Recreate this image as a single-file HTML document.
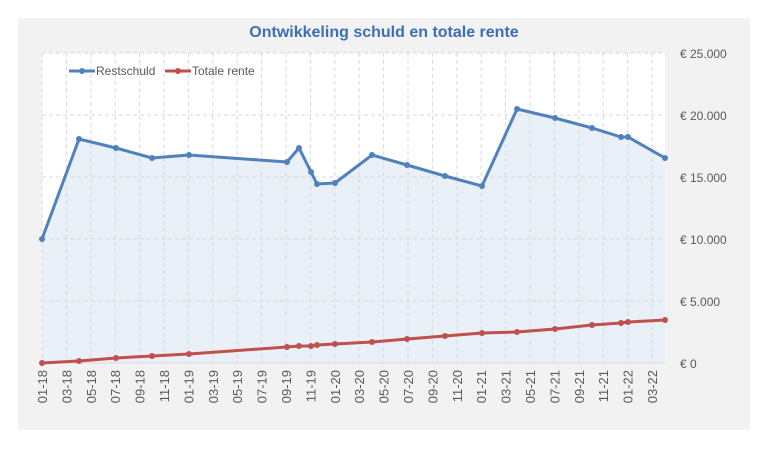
<!DOCTYPE html><html><head><style>body{margin:0;background:#fff}</style></head><body>
<svg width="768" height="449" xmlns="http://www.w3.org/2000/svg" font-family="Liberation Sans, sans-serif">
<rect x="18" y="18" width="732" height="412" fill="#f2f2f2"/>
<rect x="42" y="53" width="623" height="310" fill="#fff"/>
<polygon fill="#eaf0f8" points="42,363 42,239 79,139 116,148 152,158 189,155 287,162 299,148 311,172 317,184 335,183 372,155 407,165 445,176 482,186 517,109 555,118 592,128 621,137 628,137 665,158 665,363"/>
<g stroke="#d9d9d9" stroke-dasharray="4,3" stroke-width="1">
<line x1="42" y1="53" x2="665" y2="53"/><line x1="42" y1="115" x2="665" y2="115"/><line x1="42" y1="177" x2="665" y2="177"/><line x1="42" y1="239" x2="665" y2="239"/><line x1="42" y1="301" x2="665" y2="301"/>
</g>
<g id="v" stroke="#d9d9d9" stroke-dasharray="4,3"></g>
<line x1="42" y1="363" x2="665" y2="363" stroke="#d9d9d9"/>
<polyline fill="none" stroke="#4f81bd" stroke-width="3" points="42,239 79,139 116,148 152,158 189,155 287,162 299,148 311,172 317,184 335,183 372,155 407,165 445,176 482,186 517,109 555,118 592,128 621,137 628,137 665,158"/>
<polyline fill="none" stroke="#c0504d" stroke-width="3" points="42,363 79,361 116,358 152,356 189,354 287,347 299,346 311,346 317,345 335,344 372,342 407,339 445,336 482,333 517,332 555,329 592,325 621,323 628,322 665,320"/>
<g id="pts"></g>
<text x="384" y="37" text-anchor="middle" font-size="16" font-weight="bold" fill="#3d6fb5">Ontwikkeling schuld en totale rente</text>
<g font-size="12" fill="#595959">
<text x="680" y="58">€ 25.000</text><text x="680" y="120">€ 20.000</text><text x="680" y="182">€ 15.000</text><text x="680" y="244">€ 10.000</text><text x="680" y="306">€ 5.000</text><text x="680" y="368">€ 0</text>
</g>
<line x1="69" y1="71" x2="95" y2="71" stroke="#4f81bd" stroke-width="3"/><circle cx="82" cy="71" r="3" fill="#4f81bd"/>
<text x="96" y="75" font-size="12" fill="#595959">Restschuld</text>
<line x1="165" y1="71" x2="191" y2="71" stroke="#c0504d" stroke-width="3"/><circle cx="178" cy="71" r="3" fill="#c0504d"/>
<text x="192" y="75" font-size="12" fill="#595959">Totale rente</text>
<g id="xl" font-size="13" fill="#595959"></g>
</svg>
<script>
var ns="http://www.w3.org/2000/svg";
var v=document.getElementById('v'),xl=document.getElementById('xl'),pts=document.getElementById('pts');
var labs=[];for(var y=18;y<=22;y++)for(var m=1;m<=11;m+=2){labs.push((m<10?'0':'')+m+'-'+y);}
labs=labs.slice(0,26);
labs.forEach(function(l,i){var x=42+i*24.4;
var ln=document.createElementNS(ns,'line');ln.setAttribute('x1',x);ln.setAttribute('x2',x);ln.setAttribute('y1',53);ln.setAttribute('y2',363);v.appendChild(ln);
var t=document.createElementNS(ns,'text');t.setAttribute('transform','translate('+(x+5)+',370) rotate(-90)');t.setAttribute('text-anchor','end');t.textContent=l;xl.appendChild(t);});
var b="42,239 79,139 116,148 152,158 189,155 287,162 299,148 311,172 317,184 335,183 372,155 407,165 445,176 482,186 517,109 555,118 592,128 621,137 628,137 665,158";
var r="42,363 79,361 116,358 152,356 189,354 287,347 299,346 311,346 317,345 335,344 372,342 407,339 445,336 482,333 517,332 555,329 592,325 621,323 628,322 665,320";
[[b,'#4f81bd'],[r,'#c0504d']].forEach(function(s){s[0].split(' ').forEach(function(p){var a=p.split(',');var c=document.createElementNS(ns,'circle');c.setAttribute('cx',a[0]);c.setAttribute('cy',a[1]);c.setAttribute('r',3);c.setAttribute('fill',s[1]);pts.appendChild(c);});});
</script>
</body></html>
